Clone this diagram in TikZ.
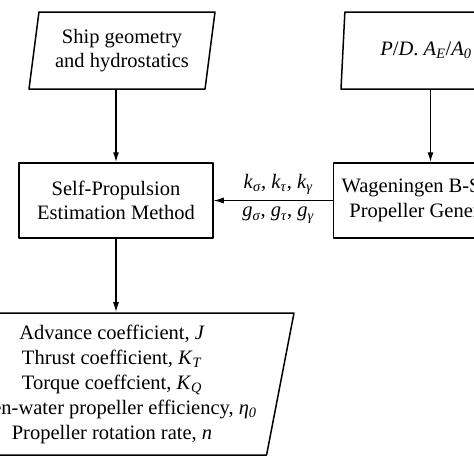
\documentclass[tikz,border=0pt]{standalone}
\usepackage{fontspec}
\setmainfont{Liberation Serif}
\usetikzlibrary{positioning}
\usetikzlibrary{shapes.geometric}
\usetikzlibrary{arrows.meta}
\newcommand{\vsub}[2]{\textit{#1}\textsubscript{\textit{#2}}}
\tikzstyle{every node}=[font=\fontsize{20.5}{24.5}\selectfont]
\tikzstyle{blk}=[draw,line width=1.5pt,line join=round,minimum width=194pt,minimum height=75pt,align=center,inner sep=0pt]
\tikzstyle{io}=[draw,line width=1.5pt,line join=round,trapezium,trapezium left angle=77,trapezium right angle=103,trapezium stretches body,align=center,inner sep=0pt]
\tikzstyle{arr}=[line width=1.4pt,-{Latex[length=10pt,width=6pt]}]

\begin{document}
\begin{tikzpicture}[x=1pt,y=-1pt]
\useasboundingbox (0,0) rectangle (474,474);
\clip (0,0) rectangle (474,474);
\fill[white] (0,0) rectangle (474,474);
% inputs
\node[io,minimum width=186pt,minimum height=77pt] (geom) at (122,50.5) {Ship geometry\\and hydrostatics};
\node[io,minimum width=186pt,minimum height=77pt] (ratio) at (434,50.5) {\textit{P}/\textit{D}. \vsub{A}{E}/\vsub{A}{0}\hspace*{16pt}};
% blocks
\node[blk] (spm) at (116,200.5) {Self-Propulsion\\Estimation Method};
\node[blk,right=119pt of spm] (wag) {Wageningen B-Series\\Propeller Generator};
% output
\node[io,minimum width=364pt,minimum height=142pt,font=\fontsize{20.5}{25}\selectfont] (out) at (112,384)
{Advance coefficient, \textit{J}\\Thrust coefficient, \vsub{K}{T}\\Torque coeffcient, \vsub{K}{Q}\\Open-water propeller efficiency, \vsub{η}{0}\\Propeller rotation rate, \textit{n}};
\draw[arr] (geom.south -| spm.north)--(spm.north);
\draw[arr] (wag.north |- ratio.south)--(wag.north);
\draw[arr,line width=1pt] (wag.west)--(spm.east)
node[midway,above=2pt,xshift=5pt]{\vsub{k}{σ}, \vsub{k}{τ}, \vsub{k}{γ}}
node[midway,below=3pt,xshift=5pt]{\vsub{g}{σ}, \vsub{g}{τ}, \vsub{g}{γ}};
\draw[arr] (spm.south)--(spm.south |- out.north);
\end{tikzpicture}
\end{document}
